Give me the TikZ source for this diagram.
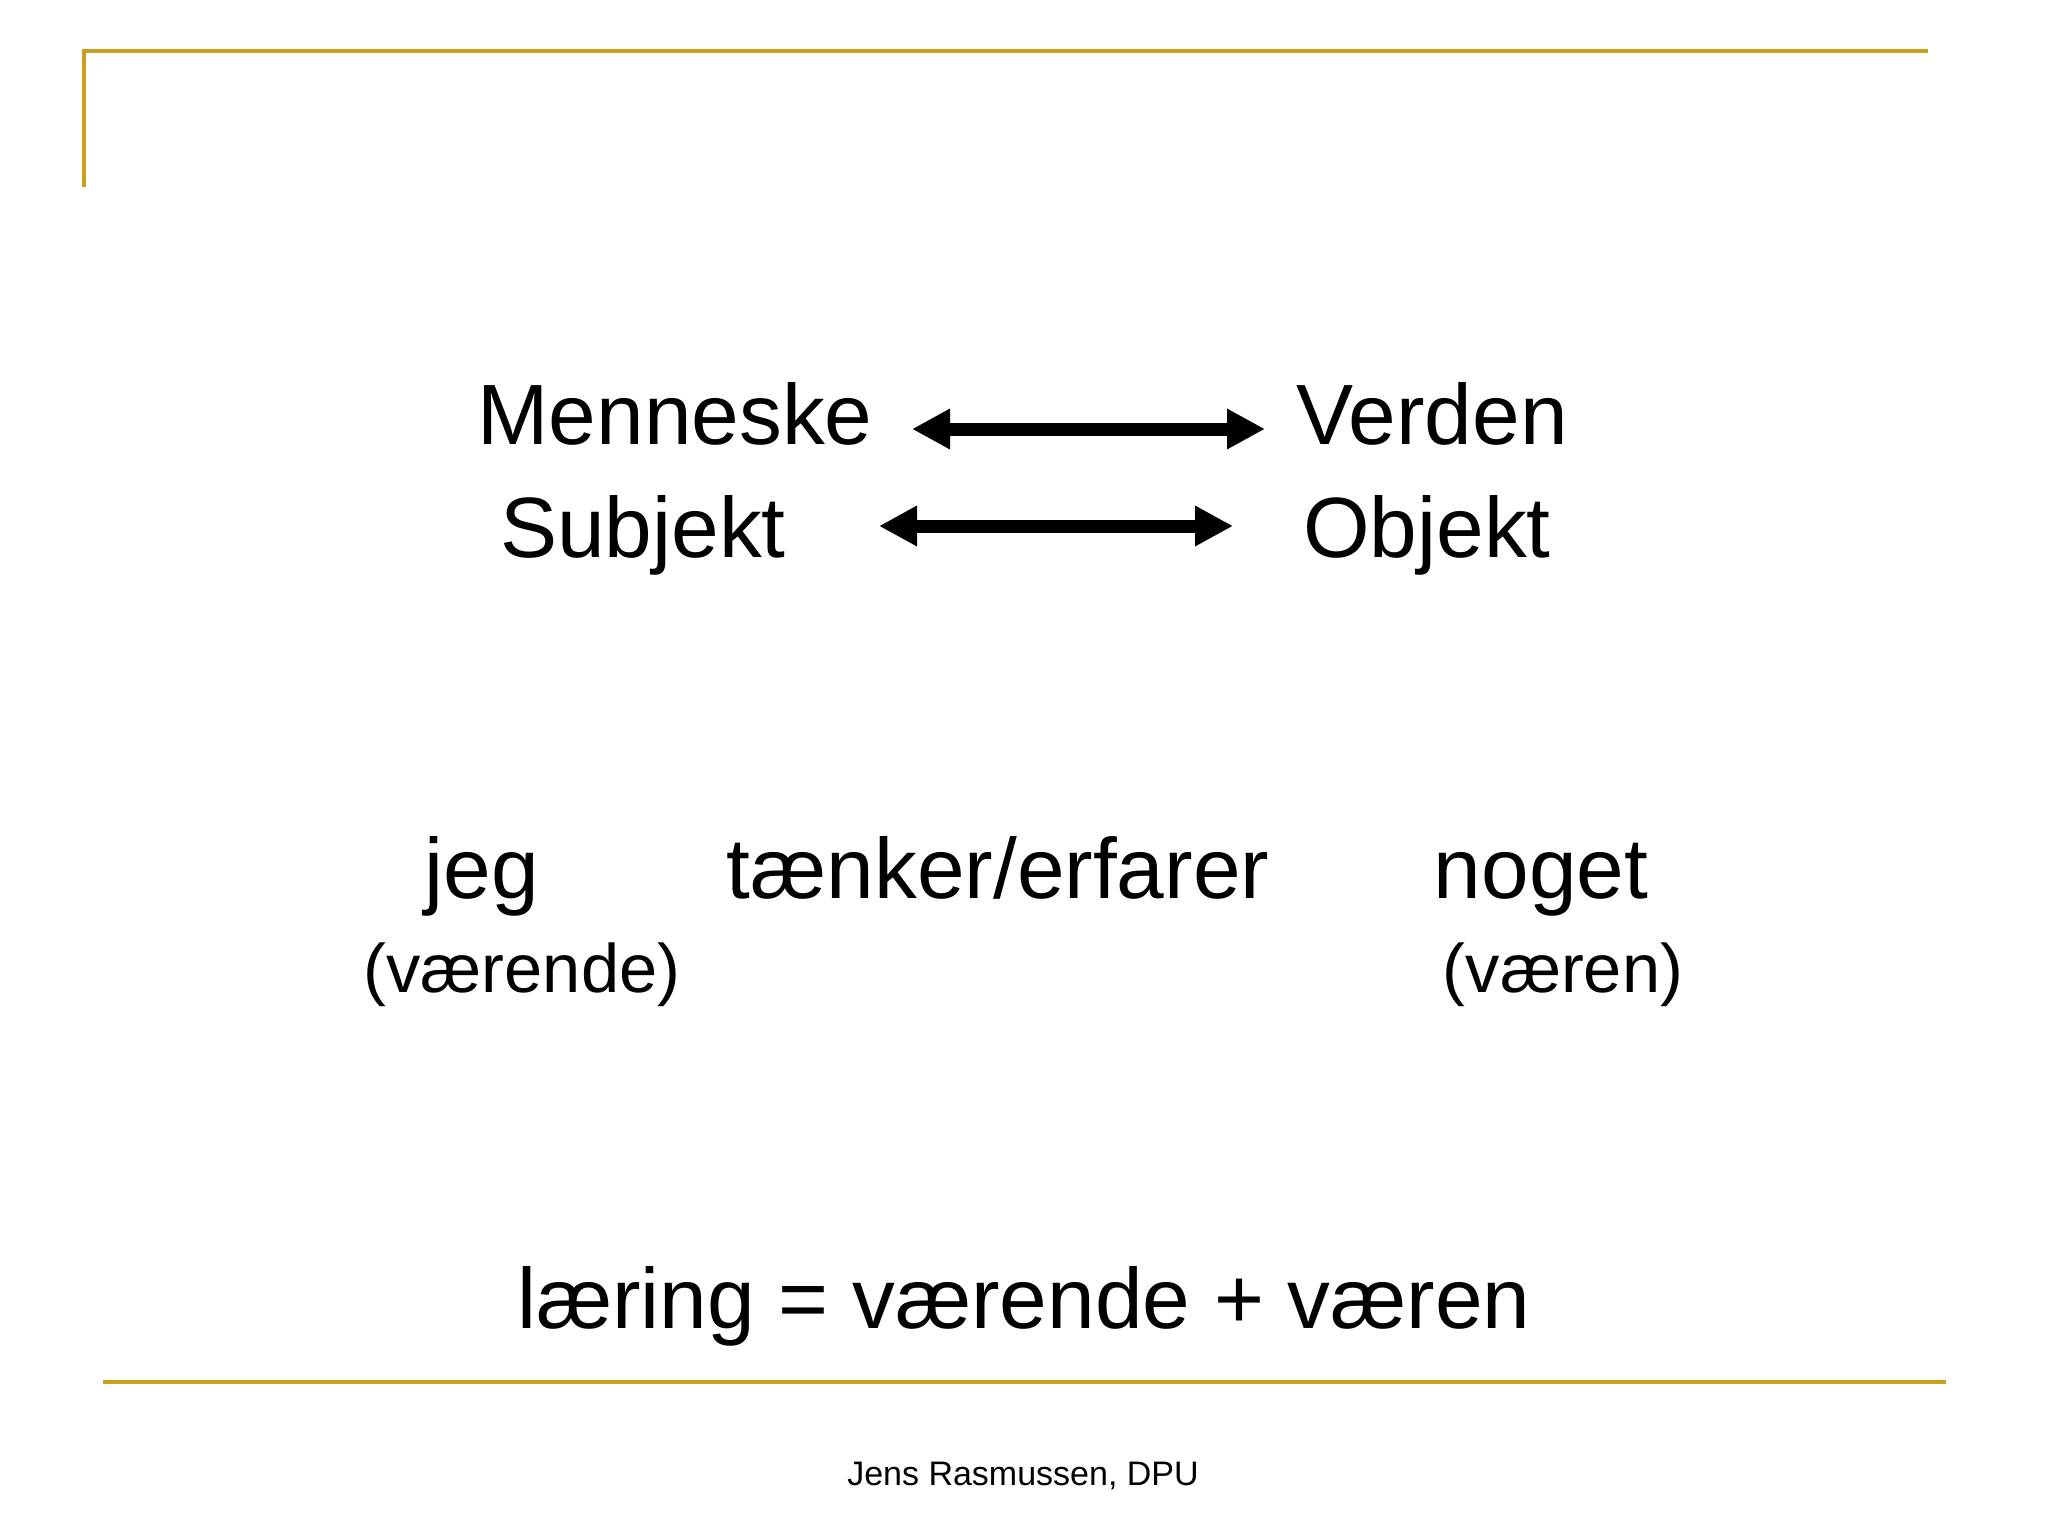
\documentclass[tikz,border=0pt]{standalone}
\usepackage{fontspec}
\setmainfont{Liberation Sans}
\usetikzlibrary{arrows.meta}
\definecolor{gold}{RGB}{202,160,30}
\begin{document}
\begin{tikzpicture}[x=0.5bp,y=-0.5bp,
  big/.style={font=\fontsize{42.8bp}{50bp}\selectfont, inner sep=0pt, anchor=base},
  mid/.style={font=\fontsize{34.3bp}{40bp}\selectfont, inner sep=0pt, anchor=base},
  small/.style={font=\fontsize{17bp}{20bp}\selectfont, inner sep=0pt, anchor=base},
  rule/.style={draw=gold, line width=2.25bp},
  dblarrow/.style={line width=6.5bp, {Triangle[length=19bp,width=19bp]}-{Triangle[length=19bp,width=19bp]}}]
\useasboundingbox[fill=white] (0,0) rectangle (2048,1536);
% frame lines
\coordinate (tl) at (84,51);
\coordinate (tr) at (1928,51);
\coordinate (lb) at (84,187);
\coordinate (bl) at (103,1382);
\coordinate (br) at (1946,1382);
\draw[rule] (lb) -- (tl) -- (tr);
\draw[rule] (bl) -- (br);
% top texts
\node[big] (menneske) at (675,444) {Menneske};
\node[big] (verden) at (1432,444) {Verden};
\node[big] (subjekt) at (643,557) {Subjekt};
\node[big] (objekt) at (1427,557) {Objekt};
% arrows
\coordinate (a1l) at (912,429);
\coordinate (a1r) at (1265,429);
\coordinate (a2l) at (879,526);
\coordinate (a2r) at (1233,526);
\draw[dblarrow] (a1l) -- (a1r);
\draw[dblarrow] (a2l) -- (a2r);
% middle
\node[big] (jeg) at (482,898) {jeg};
\node[big] (taenker) at (998,898) {tænker/erfarer};
\node[big] (noget) at (1541,898) {noget};
\node[mid] (vaerende) at (522,992) {(værende)};
\node[mid] (vaeren) at (1563,992) {(væren)};
% bottom
\node[big] (laering) at (1024,1328) {læring = værende + væren};
\node[small] (footer) at (1023,1485) {Jens Rasmussen, DPU};
\end{tikzpicture}
\end{document}
